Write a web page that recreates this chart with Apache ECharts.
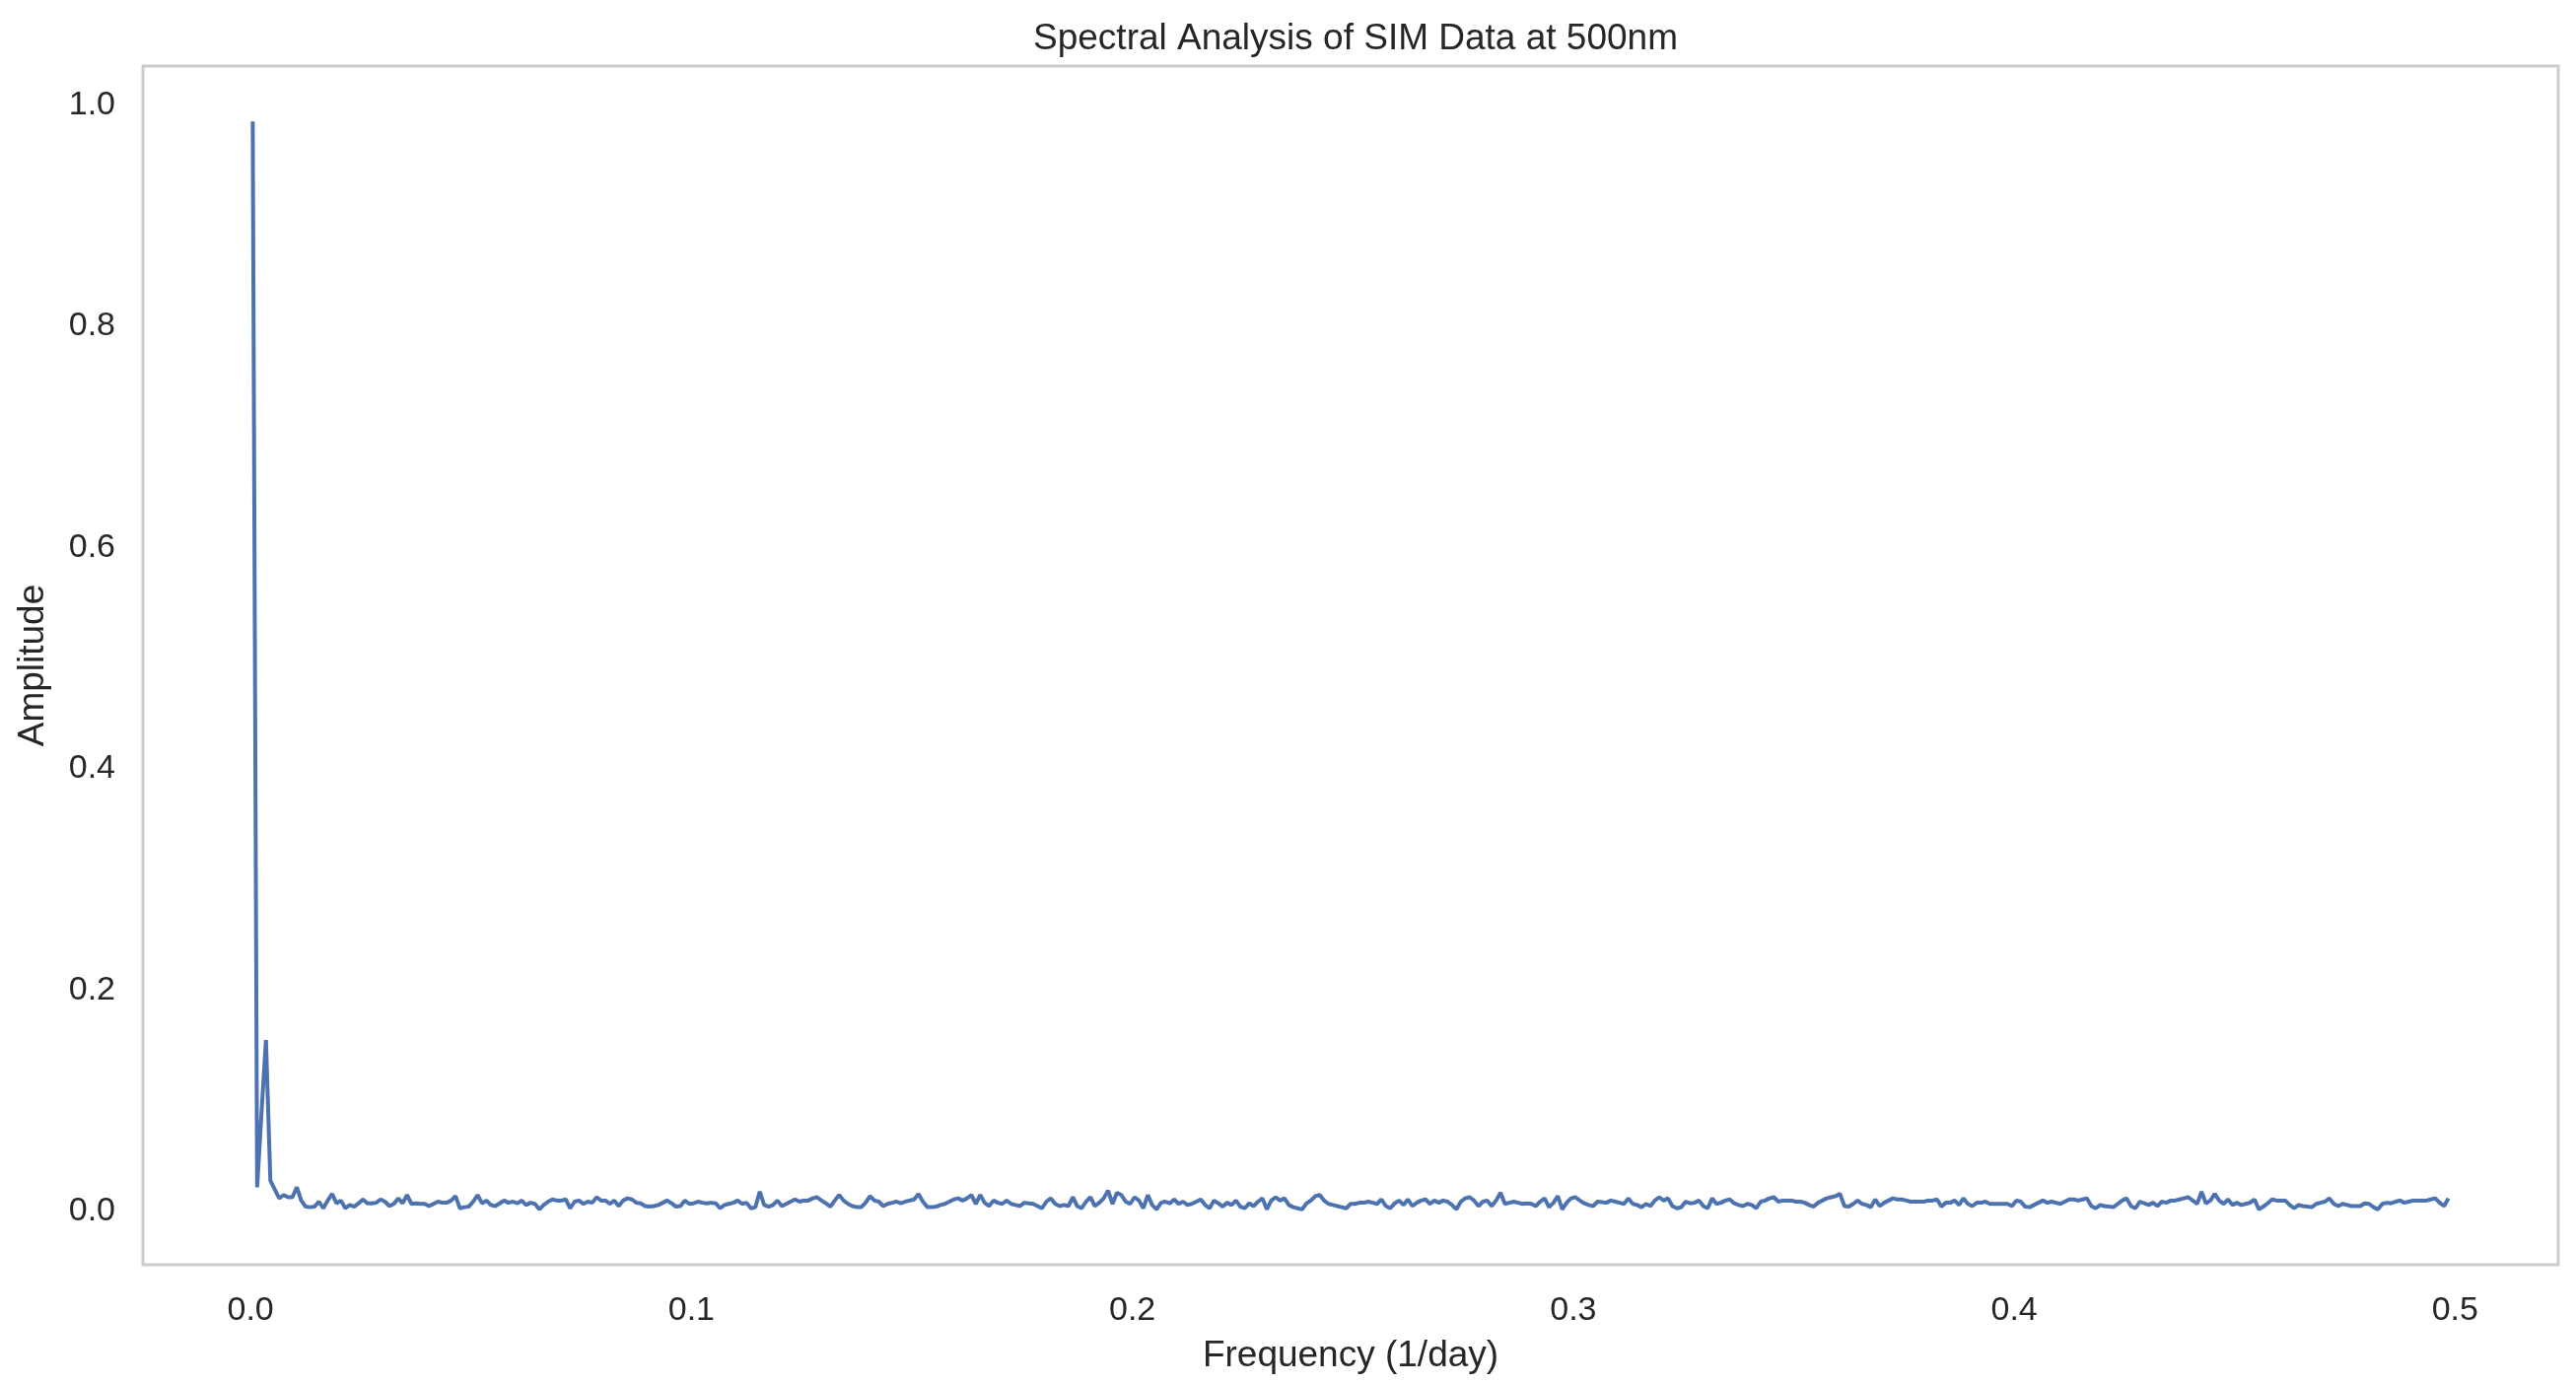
<!DOCTYPE html>
<html>
<head>
<meta charset="utf-8">
<script src="https://cdn.jsdelivr.net/npm/echarts@6/dist/echarts.min.js"></script>
<style>
html,body{margin:0;padding:0;background:#fff;}
#chart{width:2613px;height:1404px;}
</style>
</head>
<body>
<div id="chart"></div>
<script>
// Frequency bins (1/day): regular FFT grid
const freqStart = 0.0005;
const freqStep = 0.001;

// Amplitudes, per 0.1 band of frequency
const amp00to01 = [0.985,0.022,0.09,0.155,0.028,0.02,0.012,0.015,0.013,0.013,
0.022,0.010,0.0045,0.004,0.0045,0.009,0.003,0.010,0.016,0.0075,
0.010,0.003,0.006,0.0045,0.0075,0.011,0.0075,0.0075,0.008,0.011,
0.009,0.005,0.007,0.012,0.0075,0.015,0.007,0.0075,0.007,0.007,
0.005,0.007,0.009,0.008,0.008,0.010,0.014,0.003,0.004,0.0045,
0.009,0.015,0.0075,0.010,0.006,0.005,0.0075,0.010,0.008,0.009,
0.0075,0.010,0.006,0.008,0.007,0.002,0.006,0.009,0.011,0.010,
0.010,0.011,0.003,0.009,0.010,0.007,0.009,0.008,0.013,0.010,
0.010,0.007,0.010,0.005,0.010,0.012,0.011,0.008,0.0075,0.005,
0.0045,0.005,0.006,0.008,0.010,0.0075,0.0045,0.005,0.010,0.007];

const amp01to02 = [0.0075,0.009,0.008,0.0075,0.008,0.0075,0.003,0.006,0.007,0.008,
0.010,0.007,0.008,0.003,0.004,0.018,0.006,0.0045,0.006,0.010,
0.005,0.007,0.009,0.011,0.009,0.010,0.010,0.012,0.013,0.010,
0.0075,0.0045,0.010,0.015,0.010,0.007,0.005,0.004,0.004,0.008,
0.014,0.010,0.009,0.005,0.007,0.008,0.009,0.0075,0.009,0.010,
0.011,0.016,0.009,0.004,0.004,0.0045,0.006,0.007,0.009,0.011,
0.012,0.010,0.012,0.015,0.007,0.015,0.008,0.005,0.010,0.008,
0.007,0.010,0.007,0.006,0.005,0.008,0.0075,0.007,0.005,0.003,
0.009,0.012,0.007,0.005,0.006,0.005,0.013,0.005,0.003,0.009,
0.013,0.005,0.008,0.012,0.019,0.007,0.017,0.015,0.009,0.007];

const amp02to03 = [0.013,0.010,0.003,0.015,0.006,0.002,0.008,0.009,0.0075,0.011,
0.007,0.009,0.006,0.007,0.009,0.011,0.006,0.003,0.010,0.0075,
0.0045,0.008,0.006,0.010,0.0045,0.003,0.0075,0.005,0.009,0.012,
0.002,0.010,0.013,0.010,0.012,0.006,0.004,0.003,0.002,0.0075,
0.010,0.014,0.015,0.010,0.007,0.006,0.005,0.004,0.003,0.007,
0.007,0.008,0.008,0.009,0.008,0.007,0.011,0.005,0.003,0.0075,
0.010,0.006,0.011,0.005,0.008,0.010,0.011,0.007,0.010,0.008,
0.010,0.009,0.006,0.002,0.009,0.012,0.013,0.010,0.005,0.009,
0.010,0.005,0.010,0.017,0.007,0.008,0.009,0.008,0.007,0.0075,
0.007,0.005,0.009,0.012,0.004,0.008,0.014,0.002,0.008,0.012];

const amp03to04 = [0.013,0.010,0.0075,0.006,0.005,0.009,0.0085,0.008,0.010,0.009,
0.008,0.007,0.012,0.007,0.006,0.004,0.007,0.005,0.010,0.013,
0.010,0.012,0.005,0.003,0.004,0.009,0.0075,0.008,0.010,0.005,
0.003,0.012,0.007,0.008,0.010,0.011,0.0075,0.006,0.005,0.007,
0.006,0.003,0.009,0.010,0.012,0.013,0.009,0.010,0.010,0.010,
0.009,0.009,0.008,0.006,0.0045,0.008,0.010,0.012,0.013,0.014,
0.016,0.005,0.0045,0.007,0.010,0.007,0.006,0.004,0.011,0.005,
0.008,0.010,0.012,0.011,0.011,0.010,0.009,0.009,0.009,0.009,
0.010,0.010,0.011,0.0045,0.008,0.008,0.010,0.006,0.012,0.007,
0.005,0.008,0.008,0.009,0.007,0.007,0.007,0.007,0.007,0.005];

const amp04to05 = [0.010,0.009,0.0045,0.004,0.006,0.008,0.010,0.008,0.009,0.008,
0.007,0.009,0.011,0.011,0.010,0.011,0.012,0.005,0.003,0.006,
0.005,0.0045,0.004,0.007,0.010,0.012,0.005,0.003,0.009,0.0075,
0.006,0.008,0.005,0.009,0.008,0.010,0.010,0.011,0.012,0.013,
0.010,0.007,0.018,0.0075,0.010,0.016,0.010,0.007,0.011,0.006,
0.008,0.006,0.007,0.008,0.011,0.002,0.0045,0.0075,0.011,0.010,
0.010,0.010,0.006,0.003,0.006,0.005,0.0045,0.004,0.007,0.008,
0.009,0.012,0.007,0.005,0.007,0.006,0.005,0.005,0.005,0.0075,
0.007,0.004,0.002,0.007,0.008,0.0075,0.009,0.010,0.008,0.009,
0.010,0.010,0.010,0.010,0.011,0.012,0.008,0.005,0.012];

const xTicks = [0.0, 0.1, 0.2, 0.3, 0.4, 0.5];
const yTicks = [0.0, 0.2, 0.4, 0.6, 0.8, 1.0];

const titleText = 'Spectral Analysis of SIM Data at 500nm';
const xName = 'Frequency (1/day)';
const yName = 'Amplitude';

const amplitudes = [].concat(amp00to01, amp01to02, amp02to03, amp03to04, amp04to05);
const seriesData = amplitudes.map((a, i) => [freqStart + i * freqStep, a]);

const font = "'Liberation Sans', Arial, sans-serif";
const textColor = '#262626';

const chart = echarts.init(document.getElementById('chart'), null, {renderer: 'canvas'});
chart.setOption({
  animation: false,
  backgroundColor: '#ffffff',
  title: {
    text: titleText,
    left: 1370,
    textAlign: 'center',
    top: 16,
    textStyle: {fontFamily: font, fontSize: 37, fontWeight: 'normal', color: textColor}
  },
  grid: {
    left: 145, right: 18, top: 67, bottom: 121,
    show: true, borderColor: '#cccccc', borderWidth: 3, backgroundColor: '#ffffff'
  },
  xAxis: {
    type: 'value',
    min: -0.0244, max: 0.5234,
    name: xName,
    nameLocation: 'middle',
    nameGap: 74,
    nameTextStyle: {fontFamily: font, fontSize: 37, color: textColor},
    axisLine: {show: false},
    axisTick: {show: false},
    splitLine: {show: false},
    axisLabel: {
      customValues: xTicks,
      formatter: v => v.toFixed(1),
      fontFamily: font, fontSize: 34, color: textColor, margin: 30
    }
  },
  yAxis: {
    type: 'value',
    min: -0.048, max: 1.035,
    name: yName,
    nameLocation: 'middle',
    nameRotate: 90,
    nameGap: 93,
    nameTextStyle: {fontFamily: font, fontSize: 37, color: textColor},
    axisLine: {show: false},
    axisTick: {show: false},
    splitLine: {show: false},
    axisLabel: {
      customValues: yTicks,
      formatter: v => v.toFixed(1),
      fontFamily: font, fontSize: 34, color: textColor, margin: 28
    }
  },
  series: [{
    type: 'line',
    data: seriesData,
    showSymbol: false,
    symbol: 'none',
    smooth: false,
    lineStyle: {color: '#4c72b0', width: 4},
    clip: true
  }]
});
</script>
</body>
</html>
